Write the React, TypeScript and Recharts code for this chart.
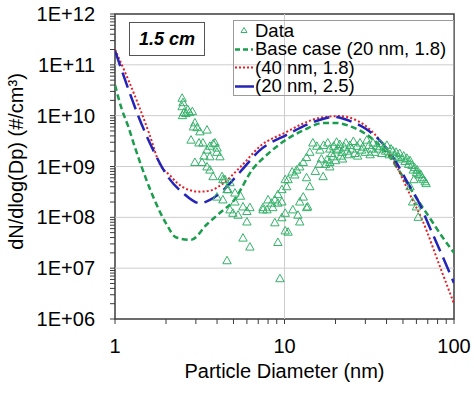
import React from 'react';
import {
  ComposedChart, XAxis, YAxis, Line, Scatter, ReferenceLine, ReferenceArea, Legend,
} from 'recharts';

// ---------- tick values / labels ----------
const xMajorTicks = [1, 10, 100];
const xMinorTicks = [2, 3, 4, 5, 6, 7, 8, 9, 20, 30, 40, 50, 60, 70, 80, 90];
const yMajorTicks = [1e6, 1e7, 1e8, 1e9, 1e10, 1e11, 1e12];
const yTickLabels = ['1E+06', '1E+07', '1E+08', '1E+09', '1E+10', '1E+11', '1E+12'];
const minorMultipliers = [2, 3, 4, 5, 6, 7, 8, 9];
const xGridValues = [10];
const yGridValues = [1e7, 1e8, 1e9, 1e10, 1e11];

// ---------- series: Base case (20 nm, 1.8) ----------
const baseDiam = [1, 1.1, 1.2, 1.3, 1.5, 1.7, 2, 2.3, 2.8, 3.5, 4.2, 5, 6.5, 8, 10, 13, 17, 20, 25, 30, 40, 50, 60, 70, 85, 100];
const baseConc = [4.0e10, 1.3e10, 6.0e9, 2.6e9, 6.6e8, 2.3e8, 7.6e7, 4.0e7, 3.6e7, 7.4e7, 1.26e8, 2.1e8, 8.9e8, 1.78e9, 3.2e9, 5.2e9, 7.2e9, 7.2e9, 6.0e9, 4.4e9, 1.86e9, 6.3e8, 2.4e8, 1.12e8, 4.2e7, 2.0e7];

// ---------- series: (40 nm, 1.8) ----------
const redDiam = [1, 1.2, 1.4, 1.6, 1.84, 2.1, 2.32, 2.7, 3.17, 3.7, 4.16, 5.5, 7.17, 10.3, 13, 16.2, 21, 27, 36.5, 46, 55, 65.5, 82.8, 100];
const redConc = [2.0e11, 5.0e10, 1.4e10, 4.2e9, 1.1e9, 6.8e8, 4.8e8, 3.5e8, 3.2e8, 3.4e8, 4.2e8, 9.8e8, 2.5e9, 4.8e9, 7.1e9, 9.1e9, 9.8e9, 7.9e9, 3.3e9, 9.8e8, 2.8e8, 8.3e7, 1.05e7, 2.0e6];

// ---------- series: (20 nm, 2.5) ----------
const blueDiam = [1, 1.2, 1.37, 1.68, 2.03, 2.52, 3.17, 3.63, 4.16, 5.47, 7.17, 10.3, 16.2, 19.5, 25, 30, 42, 55, 61, 72, 85, 100];
const blueConc = [1.9e11, 3.3e10, 1.0e10, 2.1e9, 6.6e8, 3.0e8, 1.9e8, 2.2e8, 3.0e8, 7.8e8, 2.1e9, 4.2e9, 8.3e9, 9.5e9, 7.6e9, 5.6e9, 1.86e9, 4.0e8, 2.2e8, 6.3e7, 1.8e7, 5.1e6];

// ---------- measured data: [diameter nm, dN/dlogDp] ----------
const nucleationPts: [number, number][] = [
  [2.49, 2.2e10], [2.52, 1.8e10], [2.49, 1.5e10], [2.69, 1.3e10], [2.5, 1.0e10], [2.55, 1.15e10],
  [2.75, 1.15e10], [2.62, 1.1e10], [2.86, 1.2e10], [2.96, 7.2e9], [2.9, 6.0e9], [3.05, 5.8e9],
  [3.17, 4.8e9], [3.49, 5.2e9], [2.81, 3.3e9], [3.13, 2.9e9], [3.3, 2.9e9], [3.63, 2.5e9],
  [3.89, 2.9e9], [3.49, 2.1e9], [3.99, 1.9e9], [3.63, 1.55e9], [4.16, 1.55e9], [2.96, 1.2e9],
  [3.26, 1.2e9], [3.49, 9.8e8], [3.63, 8.5e8], [3.79, 6.3e8], [4.28, 6.3e8], [4.45, 5.5e8],
  [3.99, 2.5e8], [4.64, 3.5e8], [4.33, 5.5e8], [4.77, 4.8e8], [4.58, 3.5e8], [3.8, 2.8e9],
  [4.0, 2.3e9], [3.35, 1.6e9],
];
const growthPts: [number, number][] = [
  [4.58, 1.4e7], [4.33, 2.2e8], [5.1, 2.0e8], [5.69, 1.6e8], [6.25, 1.55e8], [4.77, 1.4e8],
  [4.96, 1.2e8], [5.32, 1.1e8], [6.0, 1.3e8], [7.47, 1.55e8], [7.88, 1.4e8], [8.53, 1.55e8],
  [9.14, 1.9e8], [9.65, 2.0e8], [10.1, 1.2e8], [8.77, 7.8e7], [9.65, 9.8e7], [11.2, 1.4e8],
  [12.0, 1.1e8], [12.3, 8.1e7], [13.5, 1.55e8], [6.0, 8.1e7], [5.69, 3.9e7], [6.25, 2.6e7],
  [9.14, 3.2e7], [10.1, 5.4e7], [10.5, 5.1e7], [9.4, 6.2e6],
  [14.7, 2.9e9], [15.5, 2.5e9], [16.2, 2.1e9], [14.1, 1.9e9], [13.5, 1.5e9], [12.9, 1.2e9],
  [12.3, 9.8e8], [11.8, 8.5e8], [11.5, 6.8e8], [11.1, 7.8e8], [10.5, 5.5e8], [10.1, 5.5e8],
  [10.3, 4.0e8], [9.65, 3.5e8], [9.14, 2.8e8], [8.77, 2.2e8], [8.4, 1.9e8], [8.0, 2.2e8],
  [7.47, 1.4e8], [13.5, 6.0e8], [14.1, 4.0e8], [12.9, 2.5e8], [13.7, 1.6e8], [12.3, 2.0e8],
  [17.8, 1.35e9], [18.5, 9.8e8], [19.3, 1.55e9], [20.3, 2.1e9], [16.9, 6.3e8], [15.2, 8.0e8],
  [16.0, 1.1e9], [5.1, 3.0e8], [5.5, 2.6e8],
];
const plateauPts: [number, number][] = [
  [17.0, 2.6e9], [18.0, 2.9e9], [18.5, 2.2e9], [19.0, 1.8e9], [19.5, 2.5e9], [20.3, 3.0e9],
  [20.8, 2.2e9], [21.2, 2.7e9], [21.8, 1.9e9], [22.5, 2.4e9], [23.0, 2.9e9], [23.5, 2.0e9],
  [24.3, 2.6e9], [25.0, 2.2e9], [25.5, 3.1e9], [26.0, 1.8e9], [26.8, 2.5e9], [27.9, 2.9e9],
  [28.5, 2.1e9], [29.0, 2.4e9], [30.0, 1.9e9], [30.6, 3.3e9], [31.5, 2.6e9], [32.5, 2.2e9],
  [33.3, 2.9e9], [34.0, 1.9e9], [35.0, 2.5e9], [36.0, 2.2e9], [36.6, 2.8e9], [37.5, 1.8e9],
  [38.5, 2.4e9], [39.5, 2.0e9], [40.2, 2.6e9], [41.5, 1.7e9], [42.5, 2.2e9], [43.6, 2.0e9],
  [44.5, 1.6e9], [45.5, 1.9e9], [47.0, 1.5e9], [47.8, 1.8e9], [49.0, 1.4e9], [50.5, 1.6e9],
  [51.5, 1.25e9], [52.7, 1.45e9], [54.0, 1.1e9], [55.0, 1.3e9], [56.5, 1.05e9], [57.5, 8.5e8],
  [58.5, 9.5e8], [60.0, 7.5e8], [60.6, 8.5e8], [62.0, 6.8e8], [63.5, 7.0e8], [64.8, 6.0e8],
  [66.0, 5.5e8], [67.6, 5.0e8], [68.5, 4.6e8], [57.0, 2.0e8], [60.0, 1.6e8], [61.5, 1.0e8],
  [55.0, 4.0e8], [58.0, 5.5e8], [16.5, 1.4e9], [17.5, 1.1e9], [18.5, 1.2e9], [20.0, 1.3e9],
  [21.5, 1.6e9], [22.0, 1.4e9], [24.0, 1.7e9], [27.0, 1.6e9], [32.0, 1.7e9],
];

// ---------- labels ----------
const seriesNames = ['Data', 'Base case (20 nm, 1.8)', '(40 nm, 1.8)', '(20 nm, 2.5)'];
const xTitle = 'Particle Diameter (nm)';
const yTitle = 'dN/dlog(Dp) (#/cm\u00B3)';
const boxLabel = '1.5 cm';

// ---------- styles ----------
const FONT = '"Liberation Sans", Arial, sans-serif';
const C_DATA = '#35b26a';
const C_BASE = '#1a9d4c';
const C_RED = '#e51e25';
const C_BLUE = '#2424b8';
const C_GRID = '#cdcdcd';
const C_AXIS = '#3c3c3c';

const toRows = (ds: number[], vs: number[]) => ds.map((d, i) => ({ d, v: vs[i] }));
const pairRows = (pts: [number, number][]) => pts.map(([d, v]) => ({ d, v }));

const baseData = toRows(baseDiam, baseConc);
const redData = toRows(redDiam, redConc);
const blueData = toRows(blueDiam, blueConc);
const scatterData = [...pairRows(nucleationPts), ...pairRows(growthPts), ...pairRows(plateauPts)];

const xTicks = [...xMajorTicks, ...xMinorTicks].sort((a, b) => a - b);
const yMinorTicks = yMajorTicks.slice(0, -1).flatMap((m) => minorMultipliers.map((k) => k * m));
const yTicks = [...yMajorTicks, ...yMinorTicks].sort((a, b) => a - b);

const isMajorX = (v: number) => xMajorTicks.some((t) => Math.abs(t - v) < 1e-9);
const majorYIndex = (v: number) => yMajorTicks.findIndex((t) => Math.abs(t - v) / t < 1e-9);

const XTick = (props: any) => {
  const { x, y, payload } = props;
  const major = isMajorX(payload.value);
  return (
    <g>
      <line x1={x} x2={x} y1={y} y2={y + 5} stroke={C_AXIS} strokeWidth={1} />
      {major && (
        <text x={x} y={y + 34} textAnchor="middle" fontSize={20} fill="#000" fontFamily={FONT}>
          {String(payload.value)}
        </text>
      )}
    </g>
  );
};

const YTick = (props: any) => {
  const { x, y, payload } = props;
  const idx = majorYIndex(payload.value);
  return (
    <g>
      <line x1={x - 5} x2={x} y1={y} y2={y} stroke={C_AXIS} strokeWidth={1} />
      {idx >= 0 && (
        <text x={x - 20} y={y + 7} textAnchor="end" fontSize={20} fill="#000" fontFamily={FONT}>
          {yTickLabels[idx]}
        </text>
      )}
    </g>
  );
};

const TriangleShape = (props: any) => {
  const { cx, cy } = props;
  if (cx == null || cy == null) return <g />;
  return (
    <path
      d={`M${cx},${cy - 4.5}L${cx + 4.2},${cy + 3}L${cx - 4.2},${cy + 3}Z`}
      fill="none"
      stroke={C_DATA}
      strokeWidth={1}
    />
  );
};

const YTitle = (props: any) => {
  const vb = props.viewBox || { x: 0, y: 14, width: 115, height: 305 };
  const cx = vb.x + 23;
  const cy = vb.y + vb.height / 2 - 5;
  return (
    <text
      x={cx}
      y={cy}
      transform={`rotate(-90 ${cx} ${cy})`}
      textAnchor="middle"
      fontSize={20}
      fill="#000"
      fontFamily={FONT}
    >
      {yTitle}
    </text>
  );
};

const XTitle = (props: any) => {
  const vb = props.viewBox || { x: 115, y: 319, width: 339, height: 80 };
  return (
    <text x={vb.x + vb.width / 2} y={vb.y + 59} textAnchor="middle" fontSize={20} fill="#000" fontFamily={FONT}>
      {xTitle}
    </text>
  );
};

const LegendMarker = ({ i }: { i: number }) => {
  if (i === 0) {
    return <path d="M10,6.5L13,11.5L7,11.5Z" fill="none" stroke={C_DATA} strokeWidth={1} />;
  }
  if (i === 1) {
    return <line x1={1} x2={19} y1={9.5} y2={9.5} stroke={C_BASE} strokeWidth={2.5} strokeDasharray="5 3" />;
  }
  if (i === 2) {
    return <line x1={1} x2={20} y1={9.5} y2={9.5} stroke={C_RED} strokeWidth={2} strokeDasharray="2 2" />;
  }
  return <line x1={1} x2={20} y1={9.5} y2={9.5} stroke={C_BLUE} strokeWidth={2.5} />;
};

const LegendBox = () => (
  <div
    style={{
      boxSizing: 'border-box',
      width: 221,
      height: 76,
      border: '1px solid #9b9b9b',
      fontFamily: FONT,
      fontSize: 18.5,
      lineHeight: '17px',
      color: '#000',
    }}
  >
    {seriesNames.map((name, i) => (
      <div key={name} style={{ display: 'flex', alignItems: 'center', height: 18.5, whiteSpace: 'nowrap' }}>
        <svg width={21} height={18} style={{ flex: 'none' }}>
          <LegendMarker i={i} />
        </svg>
        <span style={{ lineHeight: '17px', display: 'inline-block', height: 17, overflow: 'visible' }}>{name}</span>
      </div>
    ))}
  </div>
);

export default function App() {
  return (
    <div style={{ position: 'absolute', left: 0, top: 0, width: 474, height: 399, background: '#fff', fontFamily: FONT }}>
      <ComposedChart
        width={474}
        height={399}
        margin={{ top: 14, right: 20, bottom: 0, left: 0 }}
      >
        <XAxis
          dataKey="d"
          type="number"
          scale="log"
          domain={[1, 100]}
          allowDataOverflow
          ticks={xTicks}
          interval={0}
          tick={(p: any) => <XTick {...p} />}
          tickLine={false}
          axisLine={false}
          tickSize={0}
          tickMargin={0}
          height={80}
          label={(p: any) => <XTitle {...p} />}
        />
        <YAxis
          dataKey="v"
          type="number"
          scale="log"
          domain={[1e6, 1e12]}
          allowDataOverflow
          ticks={yTicks}
          interval={0}
          tick={(p: any) => <YTick {...p} />}
          tickLine={false}
          axisLine={false}
          tickSize={0}
          tickMargin={0}
          width={115}
          label={(p: any) => <YTitle {...p} />}
        />
        {yGridValues.map((v) => (
          <ReferenceLine key={'gy' + v} y={v} stroke={C_GRID} strokeWidth={1} />
        ))}
        {xGridValues.map((v) => (
          <ReferenceLine key={'gx' + v} x={v} stroke={C_GRID} strokeWidth={1} />
        ))}
        <Legend
          layout="vertical"
          align="center"
          verticalAlign="middle"
          wrapperStyle={{ position: 'absolute', left: 233, top: 20, width: 221, height: 76 }}
          content={() => <LegendBox />}
        />
        <Scatter
          name={seriesNames[0]}
          data={scatterData}
          dataKey="v"
          shape={TriangleShape}
          isAnimationActive={false}
        />
        <Line
          name={seriesNames[1]}
          data={baseData}
          dataKey="v"
          type="monotone"
          stroke={C_BASE}
          strokeWidth={2.5}
          strokeDasharray="6 3.5"
          dot={false}
          activeDot={false}
          isAnimationActive={false}
        />
        <Line
          name={seriesNames[2]}
          data={redData}
          dataKey="v"
          type="monotone"
          stroke={C_RED}
          strokeWidth={2}
          strokeDasharray="2 2.2"
          dot={false}
          activeDot={false}
          isAnimationActive={false}
        />
        <Line
          name={seriesNames[3]}
          data={blueData}
          dataKey="v"
          type="monotone"
          stroke={C_BLUE}
          strokeWidth={2.5}
          strokeDasharray="16 7"
          dot={false}
          activeDot={false}
          isAnimationActive={false}
        />
        <ReferenceArea x1={1} x2={100} y1={1e6} y2={1e12} fill="none" stroke={C_AXIS} strokeWidth={1.5} fillOpacity={0} />
      </ComposedChart>
      <div
        style={{
          position: 'absolute',
          left: 129,
          top: 22,
          width: 76,
          height: 34,
          boxSizing: 'border-box',
          border: '1px solid #555',
          background: '#fff',
          display: 'flex',
          alignItems: 'center',
          justifyContent: 'center',
          fontFamily: FONT,
          fontWeight: 'bold',
          fontStyle: 'italic',
          fontSize: 18,
          color: '#000',
        }}
      >
        {boxLabel}
      </div>
    </div>
  );
}
